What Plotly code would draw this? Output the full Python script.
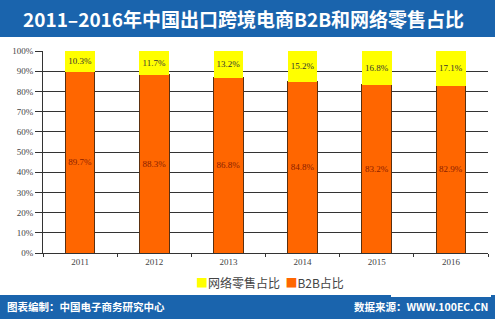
import plotly.graph_objects as go

years = ["2011", "2012", "2013", "2014", "2015", "2016"]
b2b = [89.7, 88.3, 86.8, 84.8, 83.2, 82.9]
retail = [10.3, 11.7, 13.2, 15.2, 16.8, 17.1]
yticks = [0, 10, 20, 30, 40, 50, 60, 70, 80, 90, 100]
ytick_text = [f"{v}%" for v in yticks]
legend_names = ["网络零售占比", "B2B占比"]
legend_colors = ["#ffff00", "#ff6600"]

BLUE = "#1a64ad"
W, H = 495, 319
L, R, T, B = 43, 7, 51, 66
PW, PH = W - L - R, H - T - B


def px_x(x):
    return (x - L) / PW


def px_y(y):
    return (H - B - y) / PH


fig = go.Figure()
fig.add_bar(
    x=years, y=b2b, name=legend_names[1],
    marker=dict(color=legend_colors[1], line=dict(color="#5a3010", width=1)),
    text=[f"{v:.1f}%" for v in b2b], textposition="inside",
    insidetextanchor="middle", textangle=0, constraintext="none",
    textfont=dict(family="Liberation Serif, serif", size=9, color="#8a2000"),
)
fig.add_bar(
    x=years, y=retail, name=legend_names[0],
    marker=dict(color=legend_colors[0], line=dict(color="#5a3010", width=0)),
    text=[f"{v:.1f}%" for v in retail], textposition="inside",
    insidetextanchor="middle", textangle=0, constraintext="none",
    textfont=dict(family="Liberation Serif, serif", size=9, color="#333333"),
)

fig.update_layout(
    width=W, height=H,
    margin=dict(l=L, r=R, t=T, b=B),
    barmode="stack", bargap=0.6,
    paper_bgcolor="white", plot_bgcolor="white",
    showlegend=False,
)
fig.update_yaxes(range=[0, 100], tickvals=yticks, ticktext=ytick_text,
                 showgrid=True, gridcolor="#333333", gridwidth=1,
                 showline=True, linecolor="#333333", linewidth=1,
                 ticks="outside", ticklen=7, tickcolor="#333333",
                 tickfont=dict(family="Liberation Serif, serif", size=9, color="#444"),
                 zeroline=False)
fig.update_xaxes(showline=True, linecolor="#333333", linewidth=1,
                 ticks="outside", ticklen=3, tickcolor="#333333",
                 tickson="boundaries",
                 tickfont=dict(family="Liberation Serif, serif", size=9, color="#444"))

# header and footer bands
fig.add_shape(type="rect", xref="paper", yref="paper",
              x0=px_x(0), x1=px_x(W), y0=px_y(37), y1=px_y(0),
              fillcolor=BLUE, line=dict(width=0), layer="above")
fig.add_shape(type="rect", xref="paper", yref="paper",
              x0=px_x(0), x1=px_x(W), y0=px_y(H), y1=px_y(295),
              fillcolor=BLUE, line=dict(width=0), layer="above")
# white watermark box over footer corner
fig.add_shape(type="rect", xref="paper", yref="paper",
              x0=px_x(391), x1=px_x(491), y0=px_y(297), y1=px_y(266),
              fillcolor="white", line=dict(width=0), layer="above")

# legend (manual, compact like the reference)
legend_text = "  ".join(
    f"<span style='color:{c}'>■</span><span style='color:#444'>{n}</span>"
    for n, c in zip(legend_names, legend_colors)
)
fig.add_annotation(text=legend_text, xref="paper", yref="paper",
                   x=px_x(194), y=px_y(282), showarrow=False,
                   xanchor="left", yanchor="middle",
                   font=dict(family="Noto Sans CJK SC", size=12, color="#444"))

fig.add_annotation(text="<b>2011–2016年中国出口跨境电商B2B和网络零售占比</b>",
                   xref="paper", yref="paper",
                   x=px_x(243), y=px_y(18),
                   showarrow=False, xanchor="center", yanchor="middle",
                   font=dict(family="Noto Sans CJK SC", size=19, color="white"))
fig.add_annotation(text="<b>图表编制：中国电子商务研究中心</b>",
                   xref="paper", yref="paper",
                   x=px_x(5), y=px_y(306),
                   showarrow=False, xanchor="left", yanchor="middle",
                   font=dict(family="Noto Sans CJK SC", size=10.5, color="white"))
fig.add_annotation(text="<b>数据来源：WWW.100EC.CN</b>",
                   xref="paper", yref="paper",
                   x=px_x(490), y=px_y(306),
                   showarrow=False, xanchor="right", yanchor="middle",
                   font=dict(family="Noto Sans CJK SC", size=10.5, color="white"))

fig.write_html("out.html")
